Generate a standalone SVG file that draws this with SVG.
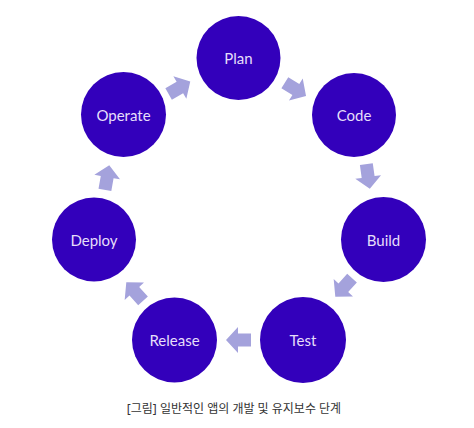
<svg xmlns="http://www.w3.org/2000/svg" width="474" height="428" viewBox="0 0 474 428">
<style>
.node circle{fill:#3300BB;}
.node text{fill:#E6DEFA;font-family:Lato,"Open Sans",sans-serif;font-size:15px;text-anchor:middle;dominant-baseline:central;}
.arr{fill:#A4A2DC;}
.cap{fill:#333;font-family:"Noto Sans","Noto Sans CJK KR",sans-serif;font-size:12px;text-anchor:middle;}
</style>
<defs>
<path id="blk" d="M-12,-6.5 L1,-6.5 L1,-13 L13,0 L1,13 L1,6.5 L-12,6.5 Z"/>
</defs>
<rect width="474" height="428" fill="#fff"/>
<g id="connectors" class="arr">
<use href="#blk" transform="translate(179,88) rotate(-30)"/>
<use href="#blk" transform="translate(295,89) rotate(32)"/>
<use href="#blk" transform="translate(368,176) rotate(82)"/>
<use href="#blk" transform="translate(344,287) rotate(132)"/>
<use href="#blk" transform="translate(239,340) rotate(180)"/>
<use href="#blk" transform="translate(135,292) rotate(228)"/>
<use href="#blk" transform="translate(107,178) rotate(-80)"/>
</g>
<g id="plan" class="node"><circle cx="238.5" cy="58" r="42"/><text x="238.5" y="58">Plan</text></g>
<g id="code" class="node"><circle cx="354" cy="115" r="42"/><text x="354" y="115">Code</text></g>
<g id="build" class="node"><circle cx="383.5" cy="239.5" r="42.5"/><text x="383.5" y="239.5">Build</text></g>
<g id="test" class="node"><circle cx="303" cy="340" r="43"/><text x="303" y="340">Test</text></g>
<g id="release" class="node"><circle cx="174.5" cy="340" r="42.5"/><text x="174.5" y="340">Release</text></g>
<g id="deploy" class="node"><circle cx="94" cy="239.5" r="42"/><text x="94" y="239.5">Deploy</text></g>
<g id="operate" class="node"><circle cx="123.5" cy="114.5" r="42.5"/><text x="123.5" y="114.5">Operate</text></g>
<text class="cap" x="234" y="413">[그림] 일반적인 앱의 개발 및 유지보수 단계</text>
</svg>
